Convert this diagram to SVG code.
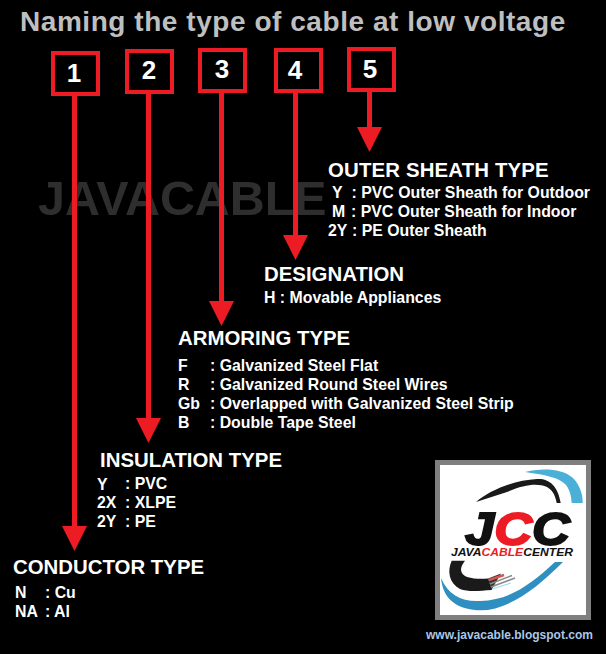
<svg xmlns="http://www.w3.org/2000/svg" width="606" height="654" viewBox="0 0 606 654">
<style>
text{font-family:"Liberation Sans",Arial,sans-serif;font-weight:bold;fill:#fff}
.b{fill:none;stroke:#ed1c24;stroke-width:4}
.n{font-size:26px;text-anchor:middle}
.h{font-size:20.400px}
.t{font-size:15.850px}
.c{stroke:#ed1c24;stroke-width:5;fill:none}
.a{fill:#ed1c24}
</style>
<rect width="606" height="654" fill="#000"/>
<text x="20" y="31" font-size="28" style="fill:#bfbfbf;letter-spacing:.55px">Naming the type of cable at low voltage</text>
<text x="38" y="215" font-size="48.400" style="fill:#2e2e2e">JAVACABLE</text>
<g id="connectors">
<path class="c" d="M74.500 96V527"/><path class="a" d="M62 526H87L74.500 551Z"/>
<path class="c" d="M148.500 94V419"/><path class="a" d="M136 418H161L148.500 443Z"/>
<path class="c" d="M221.500 93V302"/><path class="a" d="M209 301H234L221.500 326Z"/>
<path class="c" d="M295.500 93V236"/><path class="a" d="M283 235H308L295.500 260Z"/>
<path class="c" d="M369.500 92V128"/><path class="a" d="M357 127H382L369.500 152Z"/>
</g>
<g id="node1"><rect class="b" x="53" y="53" width="45" height="41"/><text class="n" x="74" y="82">1</text></g>
<g id="node2"><rect class="b" x="127" y="51" width="45" height="41"/><text class="n" x="149" y="79">2</text></g>
<g id="node3"><rect class="b" x="200" y="50" width="45" height="41"/><text class="n" x="222" y="78">3</text></g>
<g id="node4"><rect class="b" x="276" y="50" width="45" height="41"/><text class="n" x="295" y="79">4</text></g>
<g id="node5"><rect class="b" x="349" y="49" width="45" height="41"/><text class="n" x="370" y="78">5</text></g>
<g id="outer">
<text class="h" x="328" y="177" style="letter-spacing:.15px">OUTER SHEATH TYPE</text>
<text class="t" x="332" y="198">Y</text><text class="t" x="351.500" y="198">: PVC Outer Sheath for Outdoor</text>
<text class="t" x="332" y="217">M</text><text class="t" x="351" y="217">: PVC Outer Sheath for Indoor</text>
<text class="t" x="328" y="236">2Y</text><text class="t" x="352" y="236">: PE Outer Sheath</text>
</g>
<g id="designation">
<text class="h" x="264" y="281">DESIGNATION</text>
<text class="t" x="264" y="303">H : Movable Appliances</text>
</g>
<g id="armoring">
<text class="h" x="178" y="345">ARMORING TYPE</text>
<text class="t" x="178" y="371">F</text><text class="t" x="210" y="371">: Galvanized Steel Flat</text>
<text class="t" x="178" y="390">R</text><text class="t" x="210" y="390">: Galvanized Round Steel Wires</text>
<text class="t" x="178" y="409">Gb</text><text class="t" x="210" y="409">: Overlapped with Galvanized Steel Strip</text>
<text class="t" x="178" y="428">B</text><text class="t" x="210" y="428">: Double Tape Steel</text>
</g>
<g id="insulation">
<text class="h" x="100" y="467">INSULATION TYPE</text>
<text class="t" x="97" y="490">Y</text><text class="t" x="125" y="489">: PVC</text>
<text class="t" x="97" y="508">2X</text><text class="t" x="125" y="508">: XLPE</text>
<text class="t" x="97" y="527">2Y</text><text class="t" x="125" y="527">: PE</text>
</g>
<g id="conductor">
<text class="h" x="13" y="574">CONDUCTOR TYPE</text>
<text class="t" x="15" y="598">N</text><text class="t" x="45" y="598">: Cu</text>
<text class="t" x="15" y="617">NA</text><text class="t" x="45" y="617">: Al</text>
</g>
<g id="logo">
<rect x="437.500" y="462.500" width="151" height="155" fill="#fff" stroke="#7f7f7f" stroke-width="5"/>
<path d="M525 472C540 468 562 468 573 478C580 485 583 495 582.700 503L571.700 503C571 494 569 488 565 484C559 478 547 475 525 472Z" fill="#4ab0d8"/>
<path d="M476 502C490 490 515 480 537 479C548 478 558 485 560.700 503L556.700 503C555 494 552 490 547 487C538 483 525 484 507 492Z" fill="#1a1a1a"/>
<path d="M441 578C443 598 455 608 475 610C505 613 535 590 563 562L555 562C530 585 510 600 480 601C462 602 448 595 441 578Z" fill="#2f8fc0"/>
<path d="M451.700 560.700H465C459 568 460 574 467 577C474 579 481 579 488 578.500L492 590C478 591 468 592 460 589C449 583 447 571 451.700 560.700Z" fill="#1a1a1a"/>
<path d="M488 578.500L501 573.500L491.500 590Z" fill="#333"/>
<path d="M489 580L504 575" stroke="#d9534f" stroke-width="2.500" fill="none"/>
<path d="M490 584L512 575.500M491 587L515 578" stroke="#8a8a8a" stroke-width="1.500" fill="none"/>
<path d="M492 589L511 583" stroke="#a8dcec" stroke-width="1.200" fill="none"/>
<text x="465" y="544.500" font-size="47" font-style="italic" textLength="105" lengthAdjust="spacingAndGlyphs" style="fill:#111;stroke:#111;stroke-width:2px">J<tspan style="fill:#ed1c24;stroke:#ed1c24">C</tspan>C</text>
<text x="451" y="555.500" font-size="11.500" font-style="italic" textLength="122" lengthAdjust="spacingAndGlyphs" style="fill:#111">JAVA<tspan style="fill:#ed1c24">CABLE</tspan>CENTER</text>
</g>
<text x="426" y="639" font-size="12" style="fill:#a9c8e8">www.javacable.blogspot.com</text>
</svg>
